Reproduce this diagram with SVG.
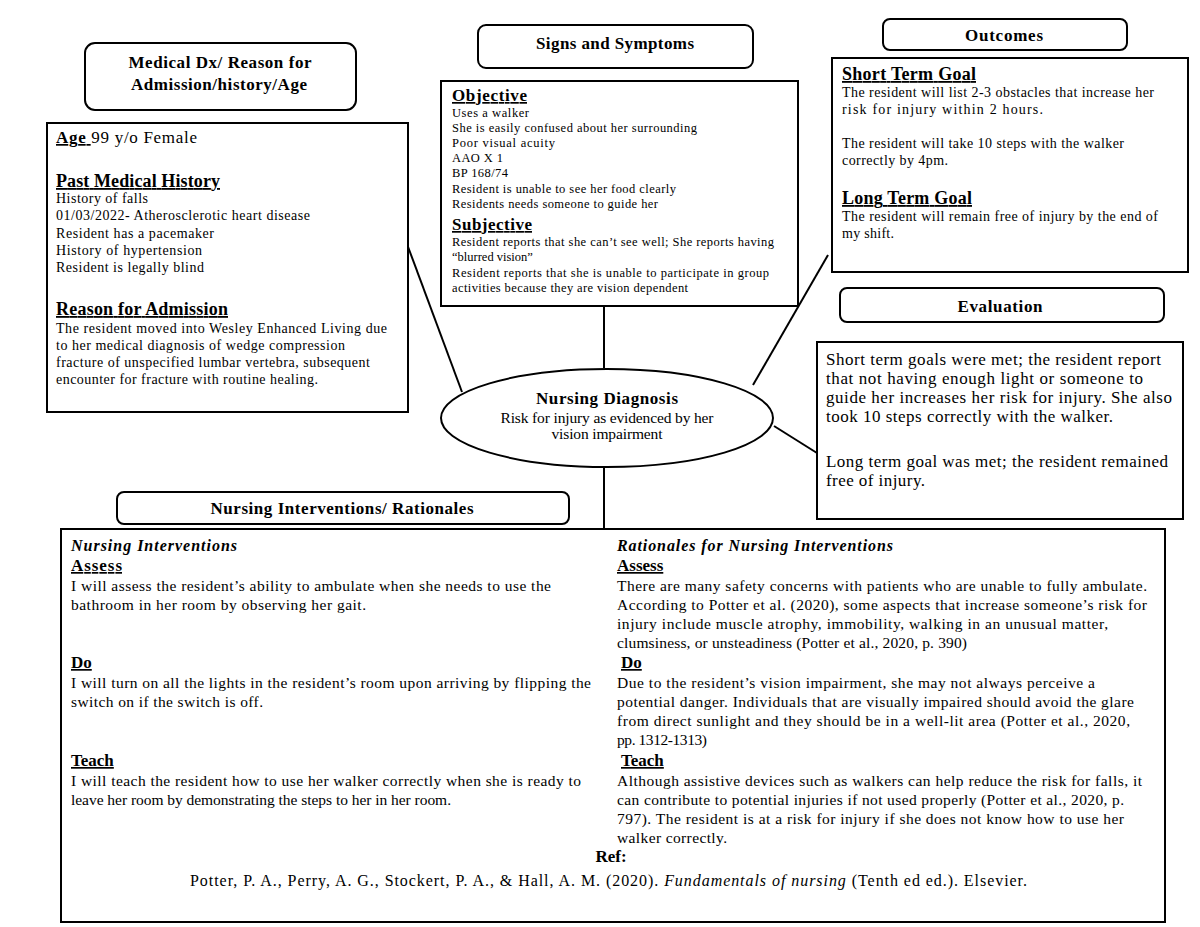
<svg xmlns="http://www.w3.org/2000/svg" width="1200" height="927" viewBox="0 0 1200 927">
<style>
  text { font-family: "Liberation Serif", "Times New Roman", serif; fill: #000; }
  .box { fill: #fff; stroke: #000; stroke-width: 2; }
  .title { fill: #fff; stroke: #000; stroke-width: 2; }
  .conn { stroke: #000; stroke-width: 2; fill: none; }
  .th { font-size: 17px; font-weight: bold; text-anchor: middle; }
  .hd { font-weight: bold; text-decoration: underline; }
  .s12 { font-size: 12.5px; }
  .s14 { font-size: 14px; }
  .s15 { font-size: 15.5px; }
  .s16 { font-size: 16px; }
  .s17 { font-size: 17px; }
  .s18 { font-size: 18px; }
</style>
<rect width="1200" height="927" fill="#fff"/>

<g id="connectors">
  <line class="conn" x1="407" y1="244" x2="462" y2="392"/>
  <line class="conn" x1="604" y1="306" x2="604" y2="368"/>
  <line class="conn" x1="828" y1="255" x2="753" y2="385"/>
  <line class="conn" x1="774" y1="426" x2="817" y2="453"/>
  <line class="conn" x1="604" y1="467" x2="604" y2="546"/>
</g>

<g id="medical-title">
  <rect class="title" x="85" y="43" width="271" height="67" rx="10"/>
  <text class="th" x="220" y="68" textLength="183">Medical Dx/ Reason for</text>
  <text class="th" x="219" y="90" textLength="176">Admission/history/Age</text>
</g>

<g id="medical-box">
  <rect class="box" x="47" y="123" width="361" height="289"/>
  <text x="56" y="143" class="s17" textLength="141"><tspan class="hd">Age </tspan>99 y/o Female</text>
  <text x="56" y="187" class="s18 hd" textLength="164">Past Medical History</text>
  <text class="s14">
    <tspan x="56" y="203" textLength="92">History of falls</tspan>
    <tspan x="56" y="220" textLength="254">01/03/2022- Atherosclerotic heart disease</tspan>
    <tspan x="56" y="238" textLength="158">Resident has a pacemaker</tspan>
    <tspan x="56" y="255" textLength="146">History of hypertension</tspan>
    <tspan x="56" y="272" textLength="148">Resident is legally blind</tspan>
  </text>
  <text x="56" y="315" class="s18 hd" textLength="172">Reason for Admission</text>
  <text class="s14">
    <tspan x="56" y="333" textLength="331">The resident moved into Wesley Enhanced Living due</tspan>
    <tspan x="56" y="350" textLength="289">to her medical diagnosis of wedge compression</tspan>
    <tspan x="56" y="367" textLength="314">fracture of unspecified lumbar vertebra, subsequent</tspan>
    <tspan x="56" y="384" textLength="262">encounter for fracture with routine healing.</tspan>
  </text>
</g>

<g id="signs-title">
  <rect class="title" x="478" y="25" width="275" height="43" rx="8"/>
  <text class="th" x="615" y="49" textLength="158">Signs and Symptoms</text>
</g>

<g id="signs-box">
  <rect class="box" x="441" y="81" width="357" height="225"/>
  <text x="452" y="101" class="s17 hd" textLength="75">Objective</text>
  <text class="s12">
    <tspan x="452" y="117" textLength="77">Uses a walker</tspan>
    <tspan x="452" y="132" textLength="245">She is easily confused about her surrounding</tspan>
    <tspan x="452" y="147" textLength="103">Poor visual acuity</tspan>
    <tspan x="452" y="162" textLength="51">AAO X 1</tspan>
    <tspan x="452" y="177" textLength="56">BP 168/74</tspan>
    <tspan x="452" y="193" textLength="224">Resident is unable to see her food clearly</tspan>
    <tspan x="452" y="208" textLength="206">Residents needs someone to guide her</tspan>
  </text>
  <text x="452" y="230" class="s17 hd" textLength="80">Subjective</text>
  <text class="s12">
    <tspan x="452" y="246" textLength="322">Resident reports that she can’t see well; She reports having</tspan>
    <tspan x="452" y="261">“blurred vision”</tspan>
    <tspan x="452" y="277" textLength="317">Resident reports that she is unable to participate in group</tspan>
    <tspan x="452" y="292" textLength="236">activities because they are vision dependent</tspan>
  </text>
</g>

<g id="outcomes-title">
  <rect class="title" x="883" y="19" width="244" height="31" rx="7"/>
  <text class="th" x="1004" y="41" textLength="78">Outcomes</text>
</g>

<g id="outcomes-box">
  <rect class="box" x="832" y="58" width="356" height="214"/>
  <text x="842" y="80" class="s18 hd" textLength="134">Short Term Goal</text>
  <text class="s14">
    <tspan x="842" y="97" textLength="312">The resident will list 2-3 obstacles that increase her</tspan>
    <tspan x="842" y="114" textLength="201">risk for injury within 2 hours.</tspan>
    <tspan x="842" y="148" textLength="282">The resident will take 10 steps with the walker</tspan>
    <tspan x="842" y="165" textLength="106">correctly by 4pm.</tspan>
  </text>
  <text x="842" y="204" class="s18 hd" textLength="130">Long Term Goal</text>
  <text class="s14">
    <tspan x="842" y="221" textLength="316">The resident will remain free of injury by the end of</tspan>
    <tspan x="842" y="238" textLength="52">my shift.</tspan>
  </text>
</g>

<g id="evaluation-title">
  <rect class="title" x="840" y="288" width="324" height="34" rx="7"/>
  <text class="th" x="1000" y="312" textLength="85">Evaluation</text>
</g>

<g id="evaluation-box">
  <rect class="box" x="817" y="342" width="366" height="177"/>
  <text class="s17">
    <tspan x="826" y="365" textLength="335">Short term goals were met; the resident report</tspan>
    <tspan x="826" y="384" textLength="317">that not having enough light or someone to</tspan>
    <tspan x="826" y="403" textLength="346">guide her increases her risk for injury. She also</tspan>
    <tspan x="826" y="422" textLength="287">took 10 steps correctly with the walker.</tspan>
    <tspan x="826" y="467" textLength="342">Long term goal was met; the resident remained</tspan>
    <tspan x="826" y="486" textLength="99">free of injury.</tspan>
  </text>
</g>

<g id="nursing-diagnosis">
  <ellipse class="box" cx="607" cy="418" rx="166" ry="49"/>
  <text class="th" x="607" y="404" textLength="142">Nursing Diagnosis</text>
  <text class="s15" text-anchor="middle" x="607" y="423" textLength="213">Risk for injury as evidenced by her</text>
  <text class="s15" text-anchor="middle" x="607" y="439" textLength="111">vision impairment</text>
</g>

<g id="interventions-title">
  <rect class="title" x="117" y="492" width="452" height="32" rx="7"/>
  <text class="th" x="342" y="514" textLength="263">Nursing Interventions/ Rationales</text>
</g>

<g id="interventions-box">
  <rect class="box" x="61" y="529" width="1104" height="393"/>
  <text x="71" y="551" class="s16" font-weight="bold" font-style="italic" textLength="166">Nursing Interventions</text>
  <text x="71" y="571" class="s17 hd" textLength="51">Assess </text>
  <text class="s15">
    <tspan x="71" y="591" textLength="480">I will assess the resident’s ability to ambulate when she needs to use the</tspan>
    <tspan x="71" y="610" textLength="295">bathroom in her room by observing her gait.</tspan>
  </text>
  <text x="71" y="668" class="s17 hd">Do </text>
  <text class="s15">
    <tspan x="71" y="688" textLength="520">I will turn on all the lights in the resident’s room upon arriving by flipping the</tspan>
    <tspan x="71" y="707" textLength="192">switch on if the switch is off.</tspan>
  </text>
  <text x="71" y="766" class="s17 hd">Teach</text>
  <text class="s15">
    <tspan x="71" y="786" textLength="510">I will teach the resident how to use her walker correctly when she is ready to</tspan>
    <tspan x="71" y="805" textLength="380">leave her room by demonstrating the steps to her in her room.</tspan>
  </text>

  <text x="617" y="551" class="s16" font-weight="bold" font-style="italic" textLength="276">Rationales for Nursing Interventions</text>
  <text x="617" y="571" class="s17 hd">Assess</text>
  <text class="s15">
    <tspan x="617" y="591" textLength="530">There are many safety concerns with patients who are unable to fully ambulate.</tspan>
    <tspan x="617" y="610" textLength="530">According to Potter et al. (2020), some aspects that increase someone’s risk for</tspan>
    <tspan x="617" y="629" textLength="491">injury include muscle atrophy, immobility, walking in an unusual matter,</tspan>
    <tspan x="617" y="648" textLength="350">clumsiness, or unsteadiness (Potter et al., 2020, p. 390)</tspan>
  </text>
  <text x="621" y="668" class="s17 hd">Do</text>
  <text class="s15">
    <tspan x="617" y="688" textLength="478">Due to the resident’s vision impairment, she may not always perceive a</tspan>
    <tspan x="617" y="707" textLength="517">potential danger. Individuals that are visually impaired should avoid the glare</tspan>
    <tspan x="617" y="726" textLength="513">from direct sunlight and they should be in a well-lit area (Potter et al., 2020,</tspan>
    <tspan x="617" y="745" textLength="90">pp. 1312-1313)</tspan>
  </text>
  <text x="621" y="766" class="s17 hd">Teach</text>
  <text class="s15">
    <tspan x="617" y="786" textLength="525">Although assistive devices such as walkers can help reduce the risk for falls, it</tspan>
    <tspan x="617" y="805" textLength="507">can contribute to potential injuries if not used properly (Potter et al., 2020, p.</tspan>
    <tspan x="617" y="824" textLength="507">797). The resident is at a risk for injury if she does not know how to use her</tspan>
    <tspan x="617" y="843" textLength="110">walker correctly.</tspan>
  </text>

  <text x="611" y="862" class="th">Ref:</text>
  <text x="190" y="886" class="s16" textLength="837">Potter, P. A., Perry, A. G., Stockert, P. A., &amp; Hall, A. M. (2020). <tspan font-style="italic">Fundamentals of nursing</tspan> (Tenth ed ed.). Elsevier.</text>
</g>
</svg>
